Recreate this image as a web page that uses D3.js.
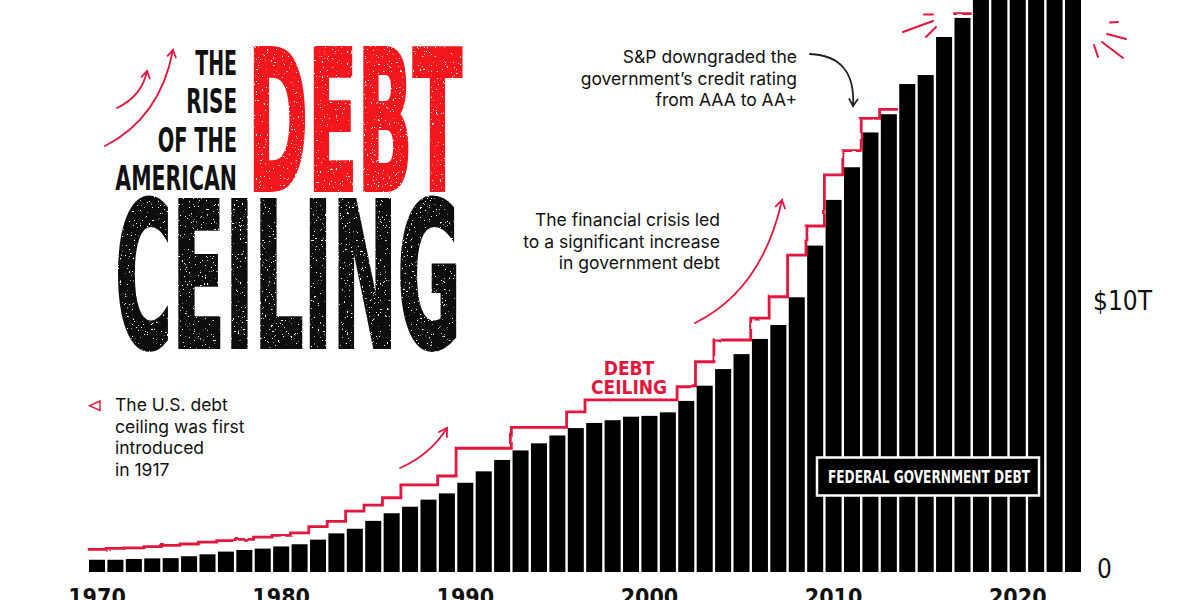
<!DOCTYPE html>
<head>
<meta charset="utf-8">
<style>
body { margin: 0; background: #fff; }
svg { display: block; }
.cond { font-family: "Liberation Sans Narrow", "Arial Narrow", "DejaVu Sans Condensed", sans-serif; font-stretch: condensed; }
.note { font-family: Inter, "Noto Sans", sans-serif; font-size: 17.5px; fill: #111; }
.axis text { font-family: "Liberation Sans Narrow", "DejaVu Sans Condensed", sans-serif; fill: #111; }
.axis path, .axis line { display: none; }
</style>
</head>
<body>
<svg width="1200" height="600"></svg>
<script src="https://cdn.jsdelivr.net/npm/d3@7"></script>
<script type="text/javascript">

var svg = d3.select("svg"),
    width = +svg.attr("width"),
    height = +svg.attr("height");

// data, trillions of dollars
var years = d3.range(1970, 2024);
var debt = [0.45, 0.45, 0.48, 0.50, 0.51, 0.58, 0.65, 0.75, 0.81, 0.86,
            0.94, 1.02, 1.19, 1.42, 1.59, 1.88, 2.16, 2.40, 2.66, 2.89,
            3.28, 3.70, 4.12, 4.47, 4.73, 5.02, 5.29, 5.48, 5.58, 5.71,
            5.74, 5.87, 6.29, 6.85, 7.46, 8.01, 8.57, 9.08, 10.10, 12.00,
            13.68, 14.88, 16.16, 16.83, 17.94, 18.27, 19.67, 20.37, 21.6, 22.9,
            27.1, 28.6, 31.1, 32.5];
// debt ceiling line, stops where it breaks through the top
var ceiling = [0.83, 0.87, 0.89, 0.93, 0.98, 1.03, 1.10, 1.15, 1.20, 1.28,
               1.35, 1.44, 1.67, 1.86, 2.24, 2.46, 2.73, 3.20, 3.20, 3.53,
               4.55, 4.55, 4.55, 5.32, 5.32, 5.32, 5.89, 6.33, 6.33, 6.33,
               6.33, 6.33, 6.81, 7.73, 8.53, 8.53, 9.33, 10.12, 11.65, 12.72,
               14.60, 15.49, 16.68, 17.01, null, null, null, 20.53];
var xTicks = [1970, 1980, 1990, 2000, 2010, 2020];
var yTicks = [0, 10];

var red = "#e3173d";

var defs = svg.append("defs");
// hand drawn wobble
var rough = defs.append("filter").attr("id", "rough").attr("x", "-5%").attr("y", "-5%").attr("width", "110%").attr("height", "110%");
rough.append("feTurbulence").attr("type", "fractalNoise").attr("baseFrequency", 0.06).attr("numOctaves", 2).attr("seed", 4).attr("result", "n");
rough.append("feDisplacementMap").attr("in", "SourceGraphic").attr("in2", "n").attr("scale", 2.2).attr("xChannelSelector", "R").attr("yChannelSelector", "G");
// worn print texture, a few speckles only
var grunge = defs.append("filter").attr("id", "grunge");
grunge.append("feTurbulence").attr("type", "fractalNoise").attr("baseFrequency", 0.55).attr("numOctaves", 3).attr("seed", 7).attr("result", "n");
grunge.append("feColorMatrix").attr("in", "n").attr("type", "matrix")
  .attr("values", "0 0 0 0 0  0 0 0 0 0  0 0 0 0 0  -22 0 0 0 16.2").attr("result", "m");
grunge.append("feComposite").attr("in", "SourceGraphic").attr("in2", "m").attr("operator", "in");

var x = d3.scaleBand()
  .domain(years)
  .range([89, 1081])
  .paddingInner(0.13)
  .paddingOuter(0);

var y = d3.scaleLinear()
  .domain([0, 10])
  .range([572, 300]);

var bw = x.bandwidth(),
    gap = x.step() - bw;

// bars
svg.append("g")
  .selectAll("rect")
  .data(years)
  .enter().append("rect")
  .attr("x", function(d) { return x(d); })
  .attr("y", function(d, i) { return Math.max(-2, y(debt[i])); })
  .attr("width", bw)
  .attr("height", function(d, i) { return y(0) - Math.max(-2, y(debt[i])); })
  .attr("fill", "#000");

// baseline
svg.append("line")
  .attr("x1", 77).attr("x2", 1092)
  .attr("y1", y(0) + 0.5).attr("y2", y(0) + 0.5)
  .attr("stroke", "#333").attr("stroke-width", 1.6)
  .attr("filter", "url(#rough)");

// ceiling step line
var pts = [];
years.forEach(function(yr, i) {
  var c = ceiling[i];
  if (c == null) { pts.push(null); return; }
  pts.push([x(yr) - gap / 2, y(c)]);
  pts.push([x(yr) + bw + gap / 2, y(c)]);
});
var line = d3.line().defined(function(d) { return d != null; });
svg.append("path")
  .attr("d", line(pts.concat([null])))
  .attr("fill", "none")
  .attr("stroke", red)
  .attr("stroke-width", 2.8)
  .attr("stroke-linejoin", "miter")
  .attr("filter", "url(#rough)");

// burst marks at the top
var burst = [
  [[924, 14.5], [933, 14.5]], [[903, 32], [933, 21]], [[926, 37], [936, 27]],
  [[1110, 22.5], [1118, 22]], [[1107, 34], [1126, 39]], [[1102, 42], [1123, 58]], [[1094, 45], [1098, 57]]
];
svg.append("g").selectAll("path")
  .data(burst)
  .enter().append("path")
  .attr("d", d3.line())
  .attr("stroke", red).attr("stroke-width", 2).attr("stroke-linecap", "round");

// axes
var xAxis = svg.append("g")
  .attr("class", "axis")
  .attr("transform", "translate(0," + 583 + ")")
  .call(d3.axisBottom(x).tickValues(xTicks).tickSize(0).tickPadding(0));
xAxis.selectAll("text").attr("font-size", 23).attr("font-weight", "bold").attr("dy", "0.95em");

var yAxis = svg.append("g")
  .attr("class", "axis")
  .attr("transform", "translate(1093,0)")
  .call(d3.axisRight(y).tickValues(yTicks).tickSize(0).tickPadding(0)
    .tickFormat(function(d) { return d === 0 ? "0" : "$" + d + "T"; }));
yAxis.selectAll("text").attr("font-size", 26).attr("dx", function(d) { return d === 0 ? 4 : 0; })
  .attr("dy", function(d) { return d === 0 ? "0.2em" : "0.35em"; });

// legend box
var box = svg.append("g");
box.append("rect")
  .attr("x", 817).attr("y", 457.5).attr("width", 222).attr("height", 38)
  .attr("fill", "#000").attr("stroke", "#fff").attr("stroke-width", 2.5);
box.append("text")
  .attr("class", "cond")
  .attr("x", 828).attr("y", 483)
  .attr("textLength", 202).attr("lengthAdjust", "spacingAndGlyphs")
  .attr("font-size", 18).attr("font-weight", "bold").attr("fill", "#fff")
  .text("FEDERAL GOVERNMENT DEBT");

// DEBT CEILING line label
svg.append("g").attr("class", "cond")
  .selectAll("text")
  .data(["DEBT", "CEILING"])
  .enter().append("text")
  .attr("x", 629).attr("y", function(d, i) { return 375 + i * 18.5; })
  .attr("text-anchor", "middle")
  .attr("font-size", 19).attr("font-weight", "bold").attr("fill", red)
  .text(String);

// title
var titleSmall = [["THE", 41.7], ["RISE", 50.7], ["OF THE", 79.3], ["AMERICAN", 121.7]];
svg.append("g").attr("class", "cond")
  .selectAll("text")
  .data(titleSmall)
  .enter().append("text")
  .attr("x", function(d) { return 237 - d[1]; })
  .attr("y", function(d, i) { return 75 + i * 38.3; })
  .attr("textLength", function(d) { return d[1]; })
  .attr("lengthAdjust", "spacingAndGlyphs")
  .attr("font-size", 34).attr("font-weight", "bold").attr("fill", "#111")
  .text(function(d) { return d[0]; });

svg.append("text").attr("class", "cond")
  .attr("x", 248).attr("y", 190)
  .attr("textLength", 214).attr("lengthAdjust", "spacingAndGlyphs")
  .attr("font-size", 195).attr("font-weight", "bold").attr("fill", "#f3191c")
  .attr("stroke", "#f3191c").attr("stroke-width", 4).attr("stroke-linejoin", "miter")
  .attr("filter", "url(#grunge)")
  .text("DEBT");

svg.append("text").attr("class", "cond")
  .attr("x", 115).attr("y", 346.5)
  .attr("textLength", 346).attr("lengthAdjust", "spacingAndGlyphs")
  .attr("font-size", 201).attr("font-weight", "bold").attr("fill", "#0d0d0d")
  .attr("stroke", "#0d0d0d").attr("stroke-width", 4).attr("stroke-linejoin", "miter")
  .attr("filter", "url(#grunge)")
  .text("CEILING");

// curved arrows
function arrow(p0, c, p1, color, head) {
  var g = svg.append("g").attr("fill", "none").attr("stroke", color)
    .attr("stroke-width", 1.8).attr("stroke-linecap", "round");
  g.append("path").attr("d", "M" + p0 + "Q" + c + " " + p1);
  var a = Math.atan2(p1[1] - c[1], p1[0] - c[0]);
  var h = head || 8;
  var l = [p1[0] - h * Math.cos(a - 0.55), p1[1] - h * Math.sin(a - 0.55)],
      r = [p1[0] - h * Math.cos(a + 0.55), p1[1] - h * Math.sin(a + 0.55)];
  g.append("path").attr("d", "M" + l + "L" + p1 + "L" + r);
}
arrow([105, 146], [160, 118], [173, 50], red, 8);
arrow([117, 108], [142, 96], [147, 71], red, 8);
arrow([400, 468], [430, 455], [447, 428], red, 9);
arrow([695, 323], [762, 290], [782, 200], red, 9);
arrow([810, 54], [856, 56], [853, 106], "#222", 8);

// notes
function note(lines, xx, yy, anchor) {
  svg.append("g").selectAll("text")
    .data(lines)
    .enter().append("text")
    .attr("class", "note")
    .attr("x", xx).attr("y", function(d, i) { return yy + i * 21.6; })
    .attr("text-anchor", anchor)
    .text(String);
}
note(["The U.S. debt", "ceiling was first", "introduced", "in 1917"], 115, 411, "start");
note(["The financial crisis led", "to a significant increase", "in government debt"], 720, 226, "end");
note(["S&P downgraded the", "government\u2019s credit rating", "from AAA to AA+"], 797, 63, "end");

// little triangle marker
svg.append("path")
  .attr("d", "M100,401 L89.5,405.7 L100,410.5 Z")
  .attr("fill", "none").attr("stroke", red).attr("stroke-width", 1.4);

</script>
</body>
